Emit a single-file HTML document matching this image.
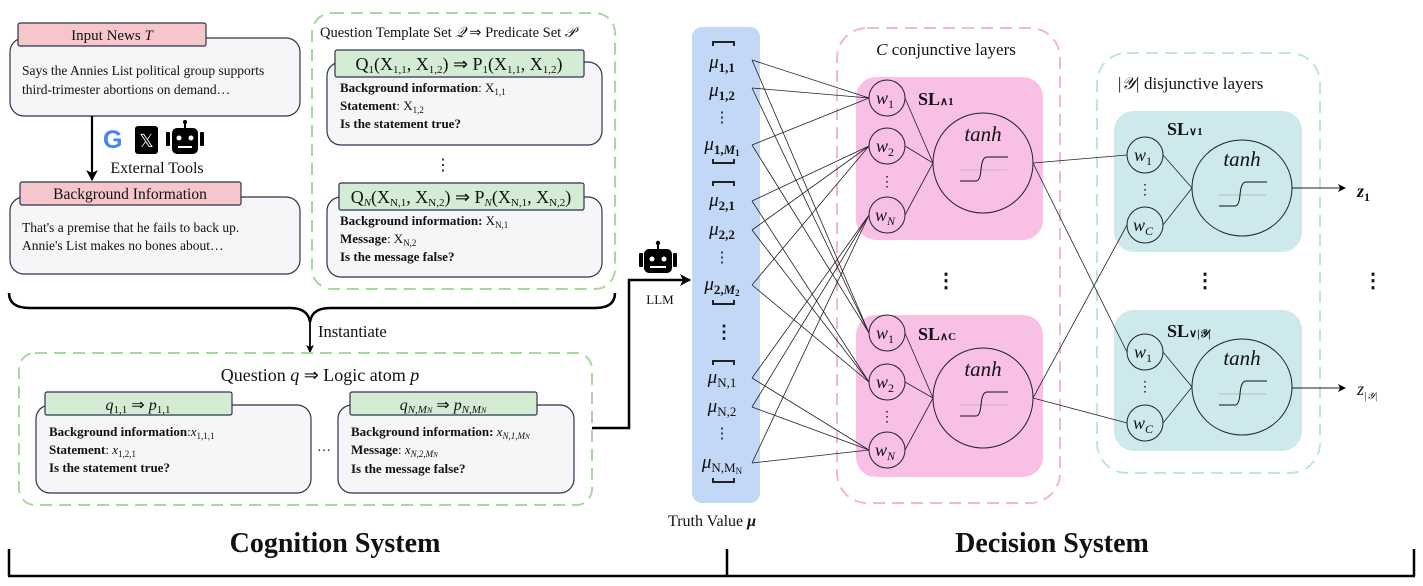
<!DOCTYPE html>
<html><head><meta charset="utf-8"><style>
html,body{margin:0;padding:0;background:#fff;}
svg{display:block;}
text{font-family:"Liberation Serif",serif;fill:#111;}
.b{font-weight:bold;}
</style></head><body>
<svg width="1423" height="586" viewBox="0 0 1423 586" xmlns="http://www.w3.org/2000/svg">
<defs>
<marker id="ah" markerWidth="8" markerHeight="8" refX="7" refY="4" orient="auto" markerUnits="userSpaceOnUse"><path d="M0,0 L8,4 L0,8 L2,4z" fill="#000"/></marker>
<marker id="ah2" markerWidth="12" markerHeight="12" refX="10" refY="6" orient="auto" markerUnits="userSpaceOnUse"><path d="M0,0 L11,6 L0,12 L3,6z" fill="#000"/></marker>
</defs>

<rect x="10" y="38" width="290" height="78" rx="14" fill="#f6f5f8" stroke="#2a3550" stroke-width="1.2"/>
<rect x="18" y="23" width="188" height="23" fill="#f6c6cc" stroke="#2a3550" stroke-width="1.2" rx="2"/>
<text x="112" y="40" font-size="15" text-anchor="middle">Input News <tspan font-style="italic">T</tspan></text>
<text x="22" y="75" font-size="13.5">Says the Annies List political group supports</text>
<text x="22" y="94" font-size="13.5">third-trimester abortions on demand…</text>

<line x1="92" y1="116" x2="92" y2="180" stroke="#000" stroke-width="2.2" marker-end="url(#ah2)"/>
<text x="103" y="148" font-size="25" font-weight="bold" style="font-family:'Liberation Sans',sans-serif;fill:#4285f4">G</text>
<rect x="135" y="126" width="23" height="28" rx="3" fill="#000"/>
<text x="146.5" y="147" font-size="18" text-anchor="middle" style="fill:#fff;font-family:'Liberation Sans',sans-serif">𝕏</text>
<rect x="166" y="132" width="4" height="14" rx="1" fill="#000"/>
<rect x="200" y="132" width="4" height="14" rx="1" fill="#000"/>
<rect x="172" y="128" width="26" height="26" rx="5" fill="#000"/>
<rect x="184" y="122" width="2" height="6" fill="#000"/><circle cx="185" cy="122" r="2"/>
<circle cx="179" cy="138" r="2.5" fill="#fff"/><circle cx="191" cy="138" r="2.5" fill="#fff"/>
<rect x="178" y="146" width="14" height="2" fill="#fff"/>
<text x="157" y="173" font-size="16" text-anchor="middle">External Tools</text>

<rect x="10" y="197" width="290" height="77" rx="14" fill="#f6f5f8" stroke="#2a3550" stroke-width="1.2"/>
<rect x="20" y="182" width="221" height="23" fill="#f6c6cc" stroke="#2a3550" stroke-width="1.2" rx="2"/>
<text x="130" y="199" font-size="15.5" text-anchor="middle">Background Information</text>
<text x="22" y="232" font-size="13.5">That's a premise that he fails to back up.</text>
<text x="22" y="250" font-size="13.5">Annie's List makes no bones about…</text>

<rect x="312" y="13" width="303" height="276" rx="20" fill="none" stroke="#a8d7a0" stroke-width="2" stroke-dasharray="12,7"/>
<text x="320" y="37" font-size="14.5">Question Template Set <tspan font-style="italic">𝒬</tspan> ⇒ Predicate Set <tspan font-style="italic">𝒫</tspan></text>
<rect x="327" y="62" width="275" height="83" rx="14" fill="#f6f5f8" stroke="#2a3550" stroke-width="1.2"/>
<rect x="335" y="50" width="249" height="27" fill="#d4ecd3" stroke="#2a3550" stroke-width="1.2" rx="2"/>
<text x="459" y="70" font-size="18" text-anchor="middle">Q<tspan font-size="11" dy="3">1</tspan><tspan dy="-3">(X</tspan><tspan font-size="11" dy="3">1,1</tspan><tspan dy="-3">, X</tspan><tspan font-size="11" dy="3">1,2</tspan><tspan dy="-3">) ⇒ P</tspan><tspan font-size="11" dy="3">1</tspan><tspan dy="-3">(X</tspan><tspan font-size="11" dy="3">1,1</tspan><tspan dy="-3">, X</tspan><tspan font-size="11" dy="3">1,2</tspan><tspan dy="-3">)</tspan></text>
<text x="340" y="92" font-size="13"><tspan class="b">Background information</tspan>: X<tspan font-size="9" dy="3">1,1</tspan></text>
<text x="340" y="110" font-size="13"><tspan class="b">Statement</tspan>: X<tspan font-size="9" dy="3">1,2</tspan></text>
<text x="340" y="128" font-size="13" class="b">Is the statement true?</text>
<text x="443" y="170" font-size="16" text-anchor="middle">⋮</text>
<rect x="327" y="197" width="275" height="80" rx="14" fill="#f6f5f8" stroke="#2a3550" stroke-width="1.2"/>
<rect x="339" y="183" width="245" height="27" fill="#d4ecd3" stroke="#2a3550" stroke-width="1.2" rx="2"/>
<text x="461" y="203" font-size="18" text-anchor="middle">Q<tspan font-size="11" dy="3" font-style="italic">N</tspan><tspan dy="-3">(X</tspan><tspan font-size="11" dy="3">N,1</tspan><tspan dy="-3">, X</tspan><tspan font-size="11" dy="3">N,2</tspan><tspan dy="-3">) ⇒ P</tspan><tspan font-size="11" dy="3" font-style="italic">N</tspan><tspan dy="-3">(X</tspan><tspan font-size="11" dy="3">N,1</tspan><tspan dy="-3">, X</tspan><tspan font-size="11" dy="3">N,2</tspan><tspan dy="-3">)</tspan></text>
<text x="340" y="225" font-size="13"><tspan class="b">Background information:</tspan> X<tspan font-size="9" dy="3">N,1</tspan></text>
<text x="340" y="243" font-size="13"><tspan class="b">Message</tspan>: X<tspan font-size="9" dy="3">N,2</tspan></text>
<text x="340" y="261" font-size="13" class="b">Is the message false?</text>

<path d="M9,293 Q9,308 30,308 L290,308 Q308,308 310,322 Q312,308 330,308 L595,308 Q615,308 615,293" fill="none" stroke="#000" stroke-width="2.5"/>
<line x1="310" y1="320" x2="310" y2="352" stroke="#000" stroke-width="1.8" marker-end="url(#ah)"/>
<text x="318" y="337" font-size="16.5">Instantiate</text>

<rect x="19" y="353" width="573" height="152" rx="16" fill="none" stroke="#a8d7a0" stroke-width="2" stroke-dasharray="12,7"/>
<text x="320" y="381" font-size="18" text-anchor="middle">Question <tspan font-style="italic">q</tspan> ⇒ Logic atom <tspan font-style="italic">p</tspan></text>
<rect x="36" y="405" width="275" height="88" rx="14" fill="#f6f5f8" stroke="#2a3550" stroke-width="1.2"/>
<rect x="45" y="392" width="187" height="23" fill="#d4ecd3" stroke="#2a3550" stroke-width="1.2" rx="2"/>
<text x="138" y="410" font-size="16" text-anchor="middle" font-style="italic">q<tspan font-size="11" dy="3" font-style="normal">1,1</tspan><tspan dy="-3" font-style="normal"> ⇒ </tspan>p<tspan font-size="11" dy="3" font-style="normal">1,1</tspan></text>
<text x="49" y="436" font-size="13"><tspan class="b">Background information</tspan>:<tspan font-style="italic">x</tspan><tspan font-size="9" dy="3">1,1,1</tspan></text>
<text x="49" y="454" font-size="13"><tspan class="b">Statement</tspan>: <tspan font-style="italic">x</tspan><tspan font-size="9" dy="3">1,2,1</tspan></text>
<text x="49" y="472" font-size="13" class="b">Is the statement true?</text>
<text x="324" y="455" font-size="14" text-anchor="middle">···</text>
<rect x="338" y="405" width="236" height="88" rx="14" fill="#f6f5f8" stroke="#2a3550" stroke-width="1.2"/>
<rect x="350" y="392" width="187" height="23" fill="#d4ecd3" stroke="#2a3550" stroke-width="1.2" rx="2"/>
<text x="443" y="410" font-size="16" text-anchor="middle" font-style="italic">q<tspan font-size="11" dy="3">N,M<tspan font-size="8">N</tspan></tspan><tspan dy="-3" font-style="normal"> ⇒ </tspan>p<tspan font-size="11" dy="3">N,M<tspan font-size="8">N</tspan></tspan></text>
<text x="351" y="436" font-size="13"><tspan class="b">Background information:</tspan> <tspan font-style="italic">x</tspan><tspan font-size="9" dy="3" font-style="italic">N,1,M<tspan font-size="7">N</tspan></tspan></text>
<text x="351" y="454" font-size="13"><tspan class="b">Message</tspan>: <tspan font-style="italic">x</tspan><tspan font-size="9" dy="3" font-style="italic">N,2,M<tspan font-size="7">N</tspan></tspan></text>
<text x="351" y="473" font-size="13" class="b">Is the message false?</text>

<polyline points="592,428 629,428 629,280 690,280" fill="none" stroke="#000" stroke-width="2.5" marker-end="url(#ah2)"/>
<rect x="644" y="249" width="28" height="24" rx="5" fill="#000"/>
<rect x="639" y="253" width="4" height="14" rx="1"/><rect x="673" y="253" width="4" height="14" rx="1"/>
<rect x="657" y="243" width="2" height="6"/><circle cx="658" cy="243" r="2.2"/>
<circle cx="652" cy="259" r="2.5" fill="#fff"/><circle cx="664" cy="259" r="2.5" fill="#fff"/>
<rect x="650" y="266" width="16" height="2" fill="#fff"/>
<text x="660" y="304" font-size="13" text-anchor="middle">LLM</text>

<rect x="692" y="27" width="68" height="476" rx="10" fill="#c2d8f6"/>
<g font-size="19" font-style="italic" text-anchor="middle">
<text x="722" y="68">μ<tspan font-size="13" dy="4" font-style="normal" font-weight="bold">1,1</tspan></text>
<text x="722" y="96">μ<tspan font-size="13" dy="4" font-style="normal" font-weight="bold">1,2</tspan></text>
<text x="722" y="150">μ<tspan font-size="13" dy="4" font-style="normal" font-weight="bold">1,<tspan font-style="italic">M</tspan><tspan font-size="9" dy="2">1</tspan></tspan></text>
<text x="722" y="206">μ<tspan font-size="13" dy="4" font-style="normal" font-weight="bold">2,1</tspan></text>
<text x="722" y="235">μ<tspan font-size="13" dy="4" font-style="normal" font-weight="bold">2,2</tspan></text>
<text x="722" y="290">μ<tspan font-size="13" dy="4" font-style="normal" font-weight="bold">2,<tspan font-style="italic">M</tspan><tspan font-size="9" dy="2">2</tspan></tspan></text>
<text x="722" y="383">μ<tspan font-size="13" dy="4" font-style="normal">N,1</tspan></text>
<text x="722" y="412">μ<tspan font-size="13" dy="4" font-style="normal">N,2</tspan></text>
<text x="722" y="468">μ<tspan font-size="13" dy="4" font-style="normal">N,M<tspan font-size="9" dy="2">N</tspan></tspan></text>
</g>
<g font-size="15" text-anchor="middle">
<text x="722" y="122">⋮</text><text x="722" y="262">⋮</text><text x="722" y="438">⋮</text>
<text x="724" y="338" font-size="18" font-weight="bold">⋮</text>
</g>
<g stroke="#222" stroke-width="2" fill="none">
<path d="M713,46 V42 H734 V46"/><path d="M713,159 V163 H734 V159"/>
<path d="M713,186 V182 H734 V186"/><path d="M713,300 V304 H734 V300"/>
<path d="M713,365 V361 H734 V365"/><path d="M713,478 V482 H734 V478"/>
</g>
<text x="712" y="526" font-size="16" text-anchor="middle">Truth Value <tspan font-weight="bold" font-style="italic">μ</tspan></text>

<rect x="837" y="28" width="223" height="475" rx="30" fill="none" stroke="#f4b5d8" stroke-width="2" stroke-dasharray="12,7"/>
<text x="946" y="55" font-size="17" text-anchor="middle"><tspan font-style="italic">C</tspan> conjunctive layers</text>
<rect x="856" y="77" width="187" height="163" rx="20" fill="#f9c0e6"/>
<rect x="856" y="315" width="187" height="162" rx="20" fill="#f9c0e6"/>
<text x="946" y="287" font-size="20" font-weight="bold" text-anchor="middle">⋮</text>

<g stroke="#222" stroke-width="0.8" fill="none">
<path d="M752,60 L869,98 M752,88 L869,98 M752,145 L869,98"/>
<path d="M752,60 L869,333 M752,88 L869,333 M752,145 L869,333"/>
<path d="M752,201 L869,146 M752,230 L869,146 M752,285 L869,146"/>
<path d="M752,201 L869,382 M752,230 L869,382 M752,285 L869,382"/>
<path d="M752,378 L869,215 M752,407 L869,215 M752,463 L869,215"/>
<path d="M752,378 L869,450 M752,407 L869,450 M752,463 L869,450"/>
<path d="M905,98 L933,163 M905,146 L933,163 M905,215 L933,163"/>
<path d="M905,333 L933,398 M905,382 L933,398 M905,450 L933,398"/>
</g>

<g fill="#f9c0e6" stroke="#222" stroke-width="1">
<circle cx="887" cy="98" r="18"/><circle cx="887" cy="146" r="18"/><circle cx="887" cy="215" r="18"/>
<circle cx="887" cy="333" r="18"/><circle cx="887" cy="382" r="18"/><circle cx="887" cy="450" r="18"/>
<circle cx="983" cy="163" r="50"/><circle cx="983" cy="398" r="50"/>
</g>
<g font-size="18" font-style="italic" text-anchor="middle">
<text x="885" y="104">w<tspan font-size="12" dy="4" font-style="normal">1</tspan></text>
<text x="885" y="152">w<tspan font-size="12" dy="4" font-style="normal">2</tspan></text>
<text x="885" y="221">w<tspan font-size="12" dy="4">N</tspan></text>
<text x="885" y="339">w<tspan font-size="12" dy="4" font-style="normal">1</tspan></text>
<text x="885" y="388">w<tspan font-size="12" dy="4" font-style="normal">2</tspan></text>
<text x="885" y="456">w<tspan font-size="12" dy="4">N</tspan></text>
<text x="983" y="141" font-size="21">tanh</text>
<text x="983" y="376" font-size="21">tanh</text>
</g>
<text x="887" y="186" font-size="14" text-anchor="middle">⋮</text>
<text x="887" y="421" font-size="14" text-anchor="middle">⋮</text>
<text x="918" y="105" font-size="18" font-weight="bold">SL<tspan font-size="11">∧1</tspan></text>
<text x="918" y="340" font-size="18" font-weight="bold">SL<tspan font-size="11">∧C</tspan></text>

<rect x="1097" y="53" width="223" height="420" rx="30" fill="none" stroke="#bfe3e6" stroke-width="2" stroke-dasharray="12,7"/>
<text x="1117" y="89" font-size="17"><tspan font-style="italic">|𝒴|</tspan> disjunctive layers</text>
<rect x="1114" y="111" width="188" height="141" rx="20" fill="#cde9ec"/>
<rect x="1114" y="310" width="188" height="141" rx="20" fill="#cde9ec"/>
<g stroke="#222" stroke-width="0.8" fill="none">
<path d="M1163,155 L1192,188 M1163,225 L1192,188 M1163,352 L1192,387 M1163,423 L1192,387"/>
<path d="M1033,163 L1127,155 M1033,163 L1127,352 M1033,398 L1127,225 M1033,398 L1127,423"/>
</g>
<g fill="#cde9ec" stroke="#222" stroke-width="1">
<circle cx="1145" cy="155" r="18"/><circle cx="1145" cy="225" r="18"/>
<circle cx="1145" cy="352" r="18"/><circle cx="1145" cy="423" r="18"/>
<ellipse cx="1242" cy="188" rx="50" ry="48"/><ellipse cx="1242" cy="387" rx="50" ry="48"/>
</g>
<g font-size="18" font-style="italic" text-anchor="middle">
<text x="1143" y="161">w<tspan font-size="12" dy="4" font-style="normal">1</tspan></text>
<text x="1143" y="231">w<tspan font-size="12" dy="4">C</tspan></text>
<text x="1143" y="358">w<tspan font-size="12" dy="4" font-style="normal">1</tspan></text>
<text x="1143" y="429">w<tspan font-size="12" dy="4">C</tspan></text>
<text x="1242" y="166" font-size="21">tanh</text>
<text x="1242" y="365" font-size="21">tanh</text>
</g>
<text x="1145" y="194" font-size="14" text-anchor="middle">⋮</text>
<text x="1145" y="391" font-size="14" text-anchor="middle">⋮</text>
<text x="1167" y="135" font-size="18" font-weight="bold">SL<tspan font-size="11">∨1</tspan></text>
<text x="1167" y="337" font-size="18" font-weight="bold">SL<tspan font-size="11">∨|<tspan font-style="italic">𝒴</tspan>|</tspan></text>
<text x="1205" y="287" font-size="20" font-weight="bold" text-anchor="middle">⋮</text>
<text x="1373" y="287" font-size="20" font-weight="bold" text-anchor="middle">⋮</text>
<line x1="1292" y1="188" x2="1345" y2="188" stroke="#222" stroke-width="0.9" marker-end="url(#ah)"/>
<line x1="1292" y1="388" x2="1345" y2="388" stroke="#222" stroke-width="0.9" marker-end="url(#ah)"/>
<text x="1357" y="197" font-size="18" font-style="italic" font-weight="bold">z<tspan font-size="12" dy="4" font-style="normal">1</tspan></text>
<text x="1357" y="395" font-size="18" font-style="italic">z<tspan font-size="10" dy="4">|𝒴|</tspan></text>

<g fill="none" stroke-width="1">
<g><line x1="960" y1="170" x2="1007" y2="170" stroke="#bbb"/><path d="M960,181 H976 Q980,181 981,170 Q982,157 987,157 H1008" stroke="#111"/></g>
<g transform="translate(0,235)"><line x1="960" y1="170" x2="1007" y2="170" stroke="#bbb"/><path d="M960,181 H976 Q980,181 981,170 Q982,157 987,157 H1008" stroke="#111"/></g>
<g transform="translate(259,25)"><line x1="960" y1="170" x2="1007" y2="170" stroke="#bbb"/><path d="M960,181 H976 Q980,181 981,170 Q982,157 987,157 H1008" stroke="#111"/></g>
<g transform="translate(259,224)"><line x1="960" y1="170" x2="1007" y2="170" stroke="#bbb"/><path d="M960,181 H976 Q980,181 981,170 Q982,157 987,157 H1008" stroke="#111"/></g>
</g>

<text x="335" y="552" font-size="28" font-weight="bold" text-anchor="middle">Cognition System</text>
<text x="1052" y="552" font-size="28" font-weight="bold" text-anchor="middle">Decision System</text>
<line x1="8" y1="576" x2="1415" y2="576" stroke="#000" stroke-width="2.5"/>
<line x1="9" y1="549" x2="9" y2="576" stroke="#000" stroke-width="2.5"/>
<line x1="727" y1="549" x2="727" y2="576" stroke="#000" stroke-width="2.5"/>
<line x1="1414" y1="549" x2="1414" y2="576" stroke="#000" stroke-width="2.5"/>
</svg>
</body></html>
